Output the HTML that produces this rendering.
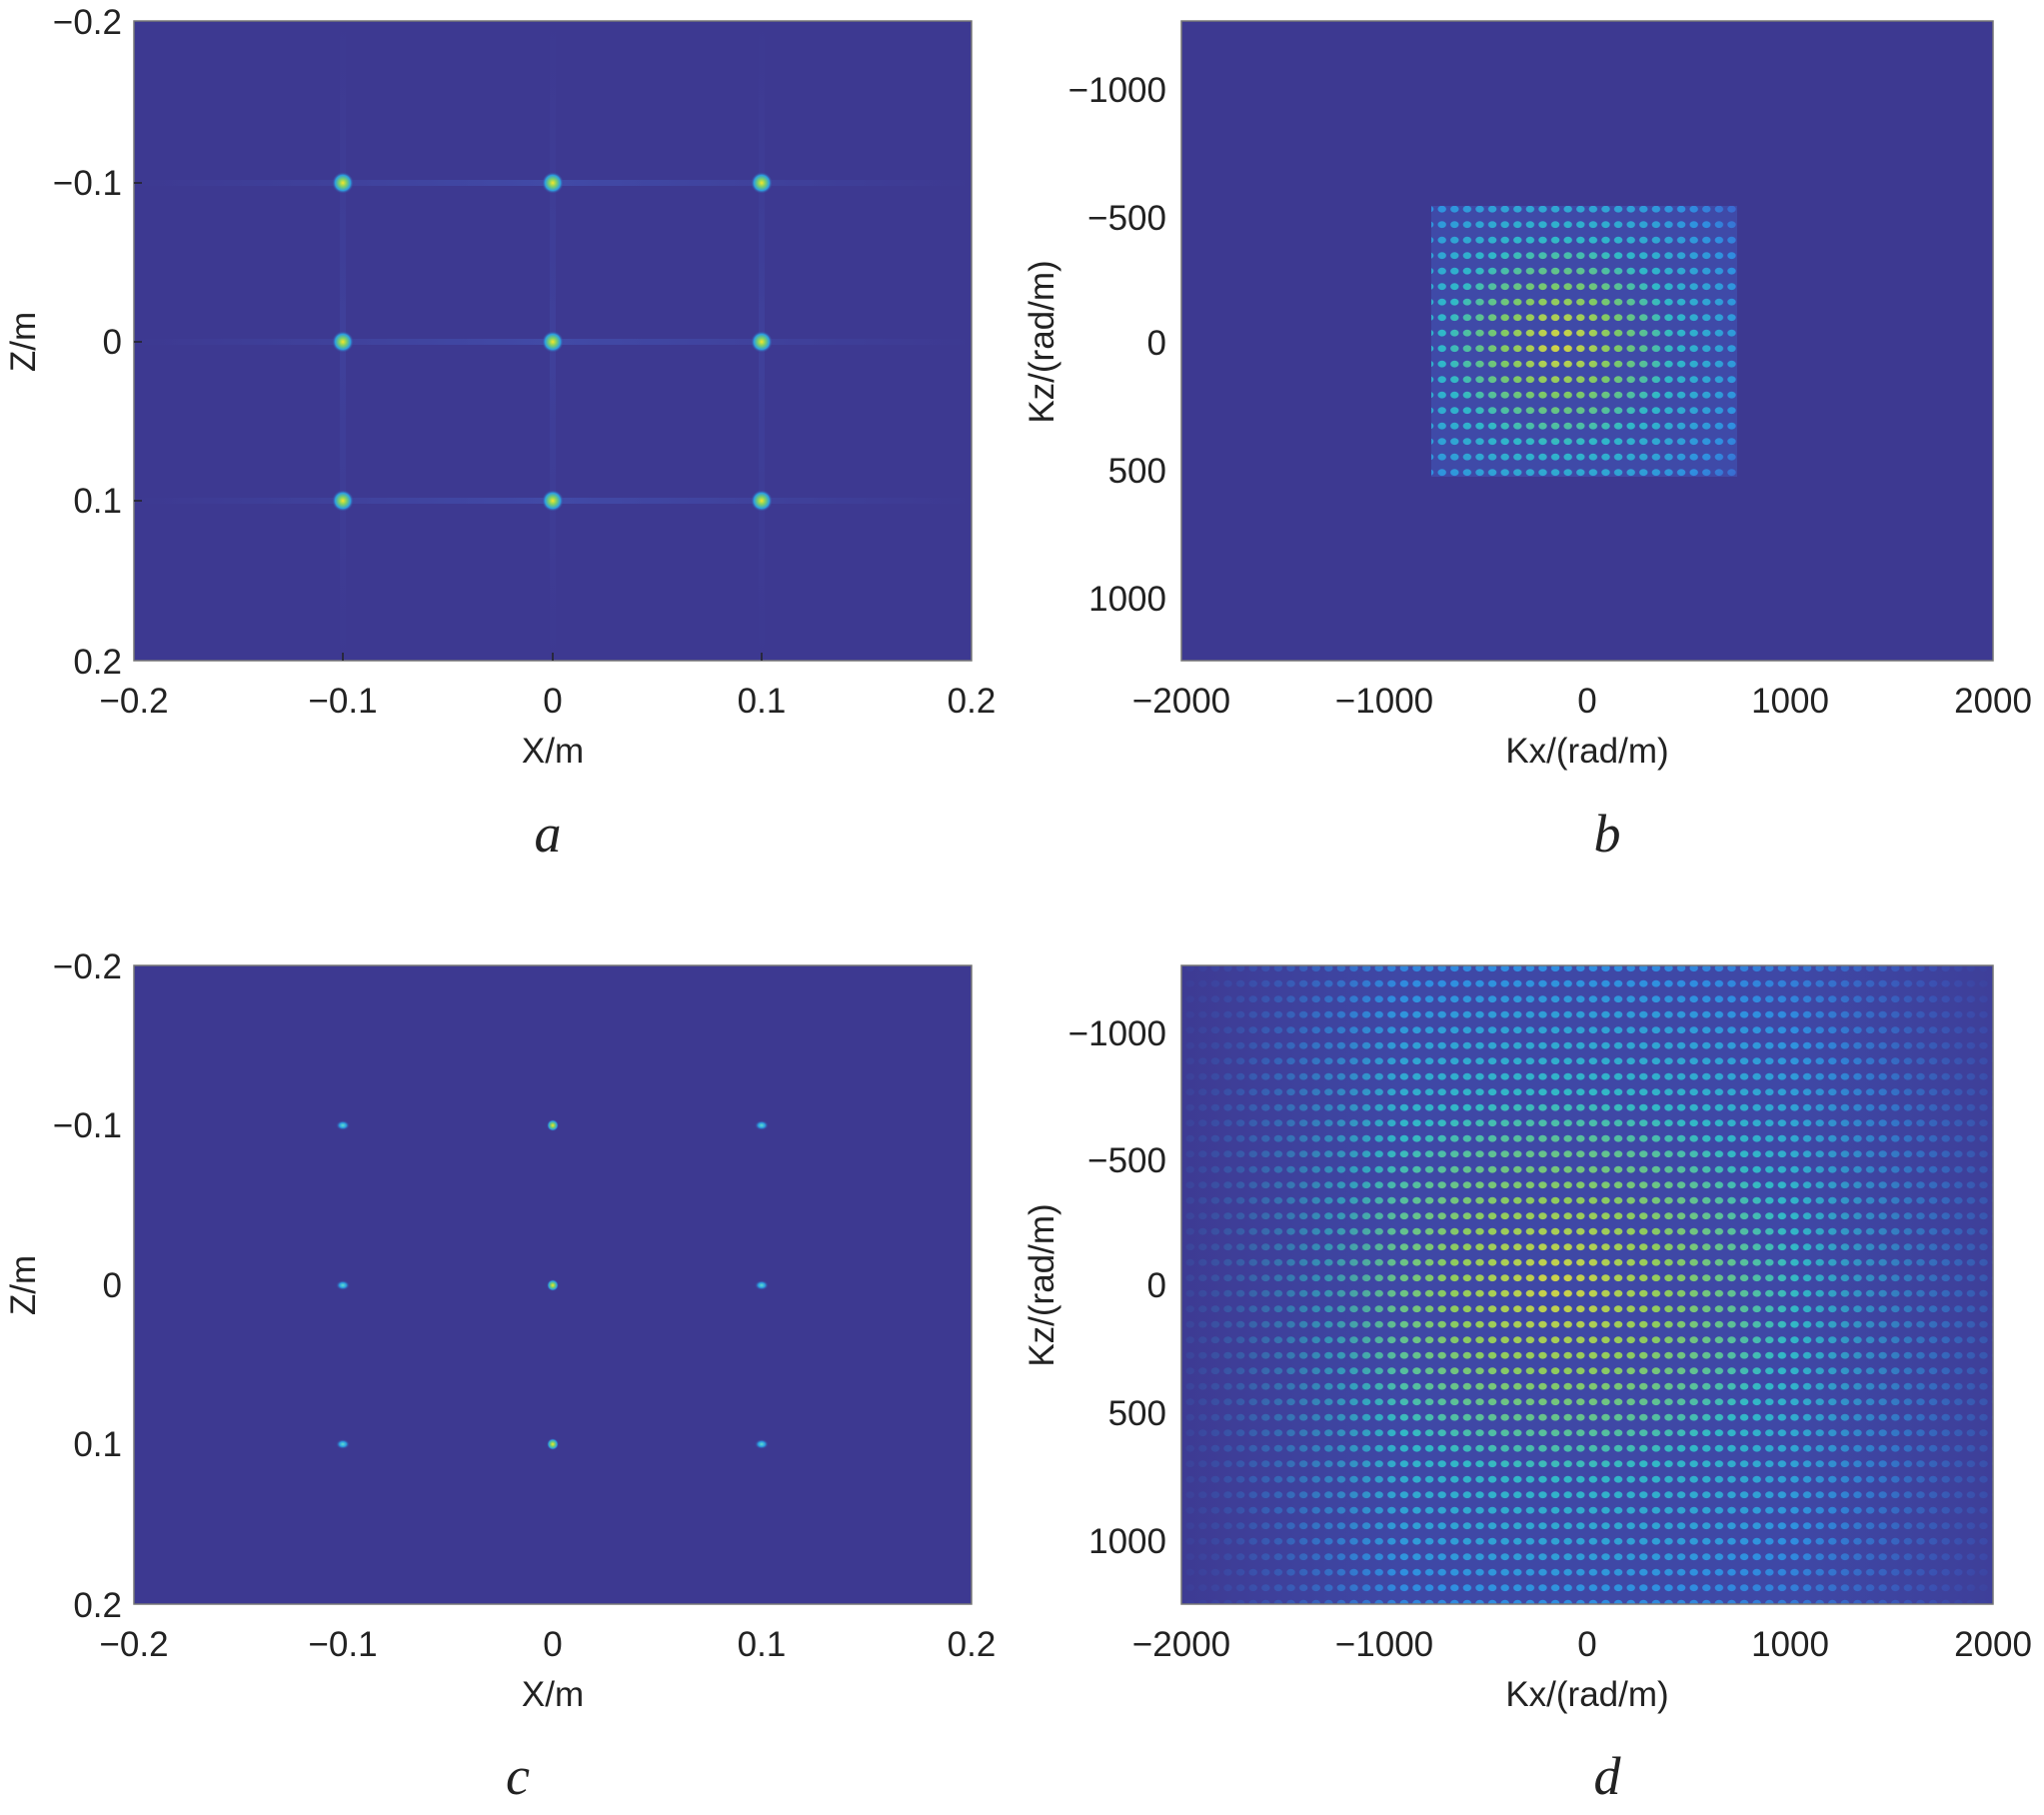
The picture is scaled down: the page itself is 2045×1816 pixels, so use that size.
<!DOCTYPE html>
<html><head><meta charset="utf-8"><style>
html,body{margin:0;padding:0;background:#fff;}
svg{display:block;}
text{font-family:"Liberation Sans",Arial,sans-serif;fill:#222;font-size:35px;}
.lt{font-family:"Liberation Serif",serif;font-style:italic;font-size:54px;}
</style></head><body>
<svg width="2045" height="1816" viewBox="0 0 2045 1816" xmlns="http://www.w3.org/2000/svg">
<defs>
<pattern id="dots" x="0" y="0" width="12.6" height="15.5" patternUnits="userSpaceOnUse">
<ellipse cx="6.3" cy="7.7" rx="4.2" ry="3.4" fill="#fff"/>
</pattern>
<mask id="mb"><rect x="1432" y="206" width="306" height="271" fill="url(#dots)"/></mask>
<mask id="md"><rect x="1182" y="966" width="812" height="639" fill="url(#dots)"/></mask>
<radialGradient id="gb" gradientUnits="userSpaceOnUse" cx="1560" cy="343" r="230" gradientTransform="translate(1560 343) scale(1 0.9) translate(-1560 -343)">
<stop offset="0" stop-color="#d8d445"/><stop offset="0.25" stop-color="#80c965"/><stop offset="0.5" stop-color="#30b8c8"/><stop offset="0.85" stop-color="#2f8fe0"/><stop offset="1" stop-color="#3a6ad0"/>
</radialGradient>
<radialGradient id="gd" gradientUnits="userSpaceOnUse" cx="1560" cy="1286" r="600" gradientTransform="translate(1560 1286) scale(1 0.8) translate(-1560 -1286)">
<stop offset="0" stop-color="#d0d24a"/><stop offset="0.18" stop-color="#8fcb5e"/><stop offset="0.4" stop-color="#32b8c6"/><stop offset="0.66" stop-color="#2f8ee0"/><stop offset="0.9" stop-color="#3a5fc8"/><stop offset="1" stop-color="#3e45a0"/>
</radialGradient>
<linearGradient id="fadeL" x1="0" x2="1" y1="0" y2="0">
<stop offset="0" stop-color="#3d3991" stop-opacity="0.9"/><stop offset="1" stop-color="#3d3991" stop-opacity="0"/>
</linearGradient>
<linearGradient id="fadeR" x1="1" x2="0" y1="0" y2="0">
<stop offset="0" stop-color="#3d3991" stop-opacity="0.6"/><stop offset="1" stop-color="#3d3991" stop-opacity="0"/>
</linearGradient>
<radialGradient id="pt">
<stop offset="0" stop-color="#f5e62a"/><stop offset="0.35" stop-color="#7ccf6a"/><stop offset="0.7" stop-color="#2c9fe0"/><stop offset="1" stop-color="#3d3991" stop-opacity="0"/>
</radialGradient>
<radialGradient id="ptc">
<stop offset="0" stop-color="#5fe0d0"/><stop offset="0.5" stop-color="#2a9be0"/><stop offset="1" stop-color="#3d3991" stop-opacity="0"/>
</radialGradient>
<linearGradient id="streak" x1="0" x2="1">
<stop offset="0" stop-color="#4a6ad0" stop-opacity="0"/><stop offset="0.5" stop-color="#4a6ad0" stop-opacity="0.35"/><stop offset="1" stop-color="#4a6ad0" stop-opacity="0"/>
</linearGradient>
<linearGradient id="vstreak" x1="0" x2="0" y1="0" y2="1">
<stop offset="0" stop-color="#4a6ad0" stop-opacity="0"/><stop offset="0.5" stop-color="#4a6ad0" stop-opacity="0.3"/><stop offset="1" stop-color="#4a6ad0" stop-opacity="0"/>
</linearGradient>
</defs>

<!-- Panel a -->
<rect x="134" y="21" width="838" height="640" fill="#3d3991"/>
<g>
<rect x="134" y="180" width="838" height="6" fill="url(#streak)"/>
<rect x="134" y="339" width="838" height="6" fill="url(#streak)"/>
<rect x="134" y="498" width="838" height="6" fill="url(#streak)"/>
<rect x="340" y="21" width="6" height="640" fill="url(#vstreak)" opacity="0.5"/>
<rect x="550" y="21" width="6" height="640" fill="url(#vstreak)" opacity="0.5"/>
<rect x="759" y="21" width="6" height="640" fill="url(#vstreak)" opacity="0.5"/>
</g>
<g fill="url(#pt)">
<circle cx="343" cy="183" r="11"/><circle cx="553" cy="183" r="11"/><circle cx="762" cy="183" r="11"/>
<circle cx="343" cy="342" r="11"/><circle cx="553" cy="342" r="11"/><circle cx="762" cy="342" r="11"/>
<circle cx="343" cy="501" r="11"/><circle cx="553" cy="501" r="11"/><circle cx="762" cy="501" r="11"/>
</g>
<rect x="134" y="21" width="838" height="640" fill="none" stroke="#777" stroke-width="1.5"/>
<g stroke="#222" stroke-width="1.5">
<line x1="343" y1="661" x2="343" y2="653"/><line x1="553" y1="661" x2="553" y2="653"/><line x1="762" y1="661" x2="762" y2="653"/>
<line x1="134" y1="183" x2="142" y2="183"/><line x1="134" y1="342" x2="142" y2="342"/><line x1="134" y1="501" x2="142" y2="501"/>
</g>
<g text-anchor="end">
<text x="122" y="34">−0.2</text><text x="122" y="195">−0.1</text><text x="122" y="354">0</text><text x="122" y="513">0.1</text><text x="122" y="674">0.2</text>
</g>
<g text-anchor="middle">
<text x="134" y="713">−0.2</text><text x="343" y="713">−0.1</text><text x="553" y="713">0</text><text x="762" y="713">0.1</text><text x="972" y="713">0.2</text>
<text x="553" y="763">X/m</text>
<text transform="translate(35 342) rotate(-90)">Z/m</text>
<text class="lt" x="548" y="852">a</text>
</g>

<!-- Panel b -->
<rect x="1182" y="21" width="812" height="640" fill="#3d3991"/>
<rect x="1432" y="206" width="306" height="271" fill="#3f4aa8"/>
<rect x="1432" y="206" width="306" height="271" fill="url(#gb)" mask="url(#mb)"/>
<rect x="1182" y="21" width="812" height="640" fill="none" stroke="#777" stroke-width="1.5"/>
<g text-anchor="end">
<text x="1167" y="102">−1000</text><text x="1167" y="230">−500</text><text x="1167" y="355">0</text><text x="1167" y="483">500</text><text x="1167" y="611">1000</text>
</g>
<g text-anchor="middle">
<text x="1182" y="713">−2000</text><text x="1385" y="713">−1000</text><text x="1588" y="713">0</text><text x="1791" y="713">1000</text><text x="1994" y="713">2000</text>
<text x="1588" y="763">Kx/(rad/m)</text>
<text transform="translate(1054 342) rotate(-90)">Kz/(rad/m)</text>
<text class="lt" x="1608" y="852">b</text>
</g>

<!-- Panel c -->
<rect x="134" y="966" width="838" height="639" fill="#3d3991"/>
<g fill="url(#ptc)">
<ellipse cx="343" cy="1126" rx="7" ry="5"/><ellipse cx="762" cy="1126" rx="7" ry="5"/>
<ellipse cx="343" cy="1286" rx="7" ry="5"/><ellipse cx="762" cy="1286" rx="7" ry="5"/>
<ellipse cx="343" cy="1445" rx="7" ry="5"/><ellipse cx="762" cy="1445" rx="7" ry="5"/>
</g>
<g fill="url(#pt)">
<circle cx="553" cy="1126" r="6"/><circle cx="553" cy="1286" r="6"/><circle cx="553" cy="1445" r="6"/>
</g>
<rect x="134" y="966" width="838" height="639" fill="none" stroke="#777" stroke-width="1.5"/>
<g text-anchor="end">
<text x="122" y="979">−0.2</text><text x="122" y="1138">−0.1</text><text x="122" y="1298">0</text><text x="122" y="1457">0.1</text><text x="122" y="1618">0.2</text>
</g>
<g text-anchor="middle">
<text x="134" y="1657">−0.2</text><text x="343" y="1657">−0.1</text><text x="553" y="1657">0</text><text x="762" y="1657">0.1</text><text x="972" y="1657">0.2</text>
<text x="553" y="1707">X/m</text>
<text transform="translate(35 1286) rotate(-90)">Z/m</text>
<text class="lt" x="518" y="1795">c</text>
</g>

<!-- Panel d -->
<rect x="1182" y="966" width="812" height="639" fill="#3f48a6"/>
<rect x="1182" y="966" width="812" height="639" fill="url(#gd)" mask="url(#md)"/>
<rect x="1182" y="966" width="220" height="639" fill="url(#fadeL)"/>
<rect x="1794" y="966" width="200" height="639" fill="url(#fadeR)"/>
<rect x="1182" y="966" width="812" height="639" fill="none" stroke="#777" stroke-width="1.5"/>
<g text-anchor="end">
<text x="1167" y="1046">−1000</text><text x="1167" y="1173">−500</text><text x="1167" y="1298">0</text><text x="1167" y="1426">500</text><text x="1167" y="1554">1000</text>
</g>
<g text-anchor="middle">
<text x="1182" y="1657">−2000</text><text x="1385" y="1657">−1000</text><text x="1588" y="1657">0</text><text x="1791" y="1657">1000</text><text x="1994" y="1657">2000</text>
<text x="1588" y="1707">Kx/(rad/m)</text>
<text transform="translate(1054 1286) rotate(-90)">Kz/(rad/m)</text>
<text class="lt" x="1608" y="1795">d</text>
</g>
</svg>
</body></html>
